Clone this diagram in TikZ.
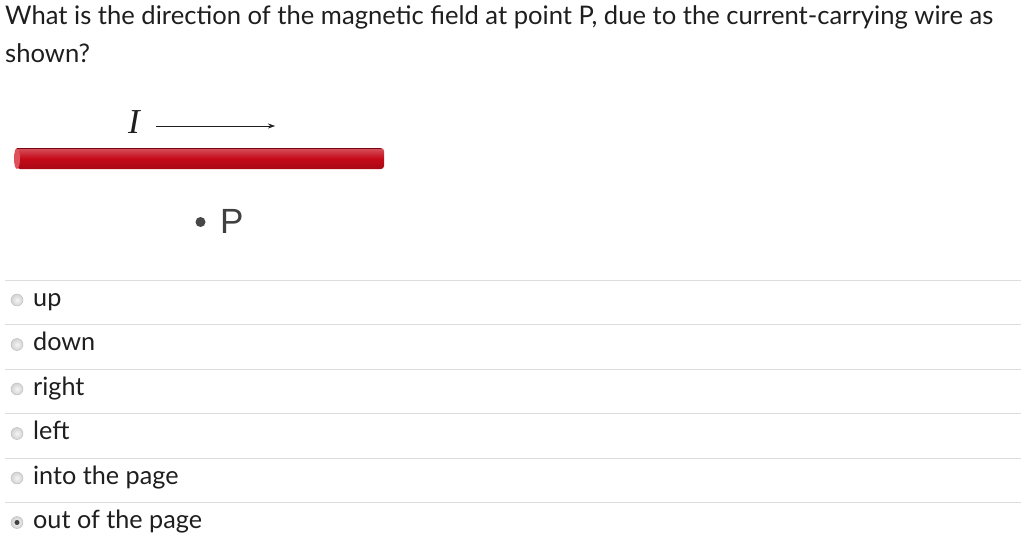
\documentclass[tikz,border=0pt]{standalone}
\usepackage{fontspec}
\setmainfont{Lato}
\newfontfamily\wirefont{Liberation Serif}
\newfontfamily\pointfont{Liberation Sans}
\usetikzlibrary{arrows.meta}

\definecolor{wirered}{HTML}{C50A19}
\definecolor{wireend}{HTML}{E0505A}
\definecolor{rulegray}{HTML}{DDDDDD}
\definecolor{inkgray}{HTML}{1E1E1E}

\tikzset{
  question/.style={anchor=base west, inner sep=0pt, text=inkgray,
    font=\fontsize{25.6}{30}\selectfont},
  choice/.style={anchor=base west, inner sep=0pt, text=inkgray,
    font=\fontsize{25.2}{30}\selectfont},
  radio/.style={circle, draw=gray!55, inner sep=0pt, minimum size=12pt,
    inner color=gray!8, outer color=gray!35},
}

\begin{document}
\begin{tikzpicture}[x=1pt, y=-1pt, >=Stealth]
  \useasboundingbox (0,0) rectangle (1021,535);

  % First the question
  \node[question] (q1) at (5,25) {What is the direction of the magnetic field at point P, due to the current-carrying wire as};
  \node[question] (q2) at (5,63) {shown?};

  % Next, draw the wire
  \shade[top color=wirered!70!white, bottom color=wirered!85!black,
    middle color=wirered, rounded corners=3pt]
    (17,148) rectangle (384,169);
  \fill[wireend] (17,158.5) ellipse (3pt and 10.5pt);
  \draw[wirered!60!black, very thin] (17,148) -- (381,148);

  % Current label and its arrow
  \node[font=\wirefont\itshape\fontsize{35}{35}\selectfont, text=inkgray, inner sep=0pt, anchor=base]
    (I) at (134,133) {I};
  \coordinate (a0) at (156,126);
  \coordinate (a1) at (275,126);
  \draw[->, thin, inkgray, >={Stealth[length=7pt, width=5pt]}] (a0) -- (a1);

  % The point P
  \fill[gray!20!black!80] (200.5,222) circle (5pt);
  \node[font=\pointfont\fontsize{35}{35}\selectfont, text=inkgray!85, anchor=base west, inner sep=0pt]
    (P) at (220,233) {P};

  % The choices
  \foreach \y/\txt [count=\i] in {280/up, 324.5/down, 369/right, 413.5/left, 458/into the page, 502.5/out of the page} {
    \draw[rulegray, thick] (5,\y) -- (1021,\y);
    \node[radio] (r\i) at (17,\y+20) {};
    \node[choice] (c\i) at (33,\y+26) {\txt};
  }
  \fill[black!75] (r6) circle (2.5pt);
\end{tikzpicture}
\end{document}
